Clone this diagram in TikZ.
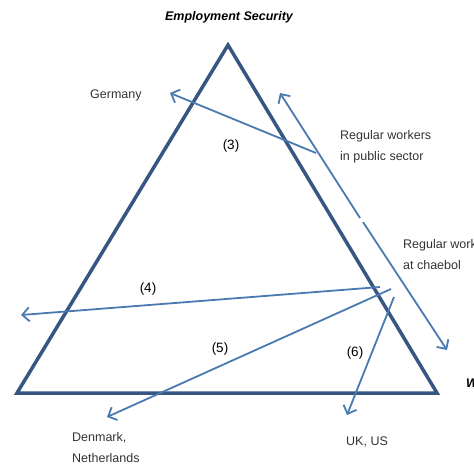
\documentclass[tikz,border=0pt]{standalone}
\usepackage{fontspec}
\setmainfont{Liberation Sans}
\usetikzlibrary{arrows.meta}
\definecolor{edgeblue}{RGB}{56,86,130}
\definecolor{arrblue}{RGB}{74,122,176}
\begin{document}
\begin{tikzpicture}[x=1pt,y=-1pt,
  lbl/.style={anchor=west, text=black!80, inner sep=0pt, align=left, font=\fontsize{12.5}{21}\selectfont},
  num/.style={text=black, inner sep=0pt, font=\fontsize{13.5}{14}\selectfont},
  axis/.style={text=black, inner sep=0pt, font=\fontsize{12.5}{14}\selectfont\bfseries\itshape},
  move/.style={draw=arrblue, line width=1.8pt, -{Straight Barb[length=7pt,width=14pt]}}]
\useasboundingbox (0,0) rectangle (474,474);
% triangle
\coordinate (apex) at (228,45);
\coordinate (bl) at (17,393);
\coordinate (br) at (437,393);
\draw[edgeblue, line width=3.5pt, line join=miter] (apex) -- (br) -- (bl) -- cycle;
\node[axis] (es) at (229,17) {Employment Security};
\node[axis, anchor=west] (wf) at (466,383) {W};
% groups
\node[lbl] (germany) at (90,95) {Germany};
\node[lbl] (public) at (340,146.5) {Regular workers\\in public sector};
\node[lbl] (chaebol) at (403,254.5) {Regular workers\\at chaebol};
\node[lbl] (denmark) at (72,447.5) {Denmark,\\Netherlands};
\node[lbl] (ukus) at (346,442) {UK, US};
% moves
\coordinate (p0) at (316,153);
\coordinate (p1) at (170,93);
\coordinate (g0) at (360,218);
\coordinate (g1) at (280,93);
\coordinate (g2) at (363,222);
\coordinate (g3) at (447,350);
\coordinate (c4) at (380,287);
\coordinate (t4) at (21,315);
\coordinate (c5) at (391,289);
\coordinate (t5) at (107,417);
\coordinate (c6) at (394,297);
\coordinate (t6) at (347,415);
\draw[move] (p0) -- (p1);
\draw[move] (g0) -- (g1);
\draw[move] (g2) -- (g3);
\draw[move] (c4) -- (t4);
\draw[move] (c5) -- (t5);
\draw[move] (c6) -- (t6);
% numbers
\node[num] (n3) at (231,146) {(3)};
\node[num] (n4) at (148,289) {(4)};
\node[num] (n5) at (220,349) {(5)};
\node[num] (n6) at (355,353) {(6)};
\end{tikzpicture}
\end{document}
